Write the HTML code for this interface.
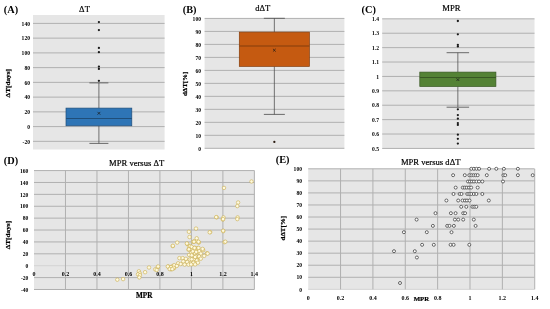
<!DOCTYPE html>
<html><head><meta charset="utf-8"><title>Box plots and scatter plots of MPR, ΔT and dΔT</title><style>
html,body{margin:0;padding:0;background:#fff;overflow:hidden;}
svg{display:block;font-family:'Liberation Serif', 'DejaVu Serif', serif;}
</style></head><body>
<svg width="550" height="309" viewBox="0 0 550 309">
<rect width="550" height="309" fill="#fff"/>
<rect x="33.00" y="15.00" width="131.60" height="134.50" fill="#e6e6e6"/>
<line x1="33.00" y1="23.39" x2="164.60" y2="23.39" stroke="#b0b0b0" stroke-width="1"/>
<text x="30.00" y="25.59" font-size="5.6" text-anchor="end" font-weight="bold">140</text>
<line x1="33.00" y1="38.14" x2="164.60" y2="38.14" stroke="#b0b0b0" stroke-width="1"/>
<text x="30.00" y="40.34" font-size="5.6" text-anchor="end" font-weight="bold">120</text>
<line x1="33.00" y1="52.88" x2="164.60" y2="52.88" stroke="#b0b0b0" stroke-width="1"/>
<text x="30.00" y="55.08" font-size="5.6" text-anchor="end" font-weight="bold">100</text>
<line x1="33.00" y1="67.62" x2="164.60" y2="67.62" stroke="#b0b0b0" stroke-width="1"/>
<text x="30.00" y="69.82" font-size="5.6" text-anchor="end" font-weight="bold">80</text>
<line x1="33.00" y1="82.37" x2="164.60" y2="82.37" stroke="#b0b0b0" stroke-width="1"/>
<text x="30.00" y="84.57" font-size="5.6" text-anchor="end" font-weight="bold">60</text>
<line x1="33.00" y1="97.11" x2="164.60" y2="97.11" stroke="#b0b0b0" stroke-width="1"/>
<text x="30.00" y="99.31" font-size="5.6" text-anchor="end" font-weight="bold">40</text>
<line x1="33.00" y1="111.86" x2="164.60" y2="111.86" stroke="#b0b0b0" stroke-width="1"/>
<text x="30.00" y="114.06" font-size="5.6" text-anchor="end" font-weight="bold">20</text>
<line x1="33.00" y1="126.60" x2="164.60" y2="126.60" stroke="#b0b0b0" stroke-width="1"/>
<text x="30.00" y="128.80" font-size="5.6" text-anchor="end" font-weight="bold">0</text>
<line x1="33.00" y1="141.34" x2="164.60" y2="141.34" stroke="#b0b0b0" stroke-width="1"/>
<text x="30.00" y="143.54" font-size="5.6" text-anchor="end" font-weight="bold">-20</text>
<line x1="98.90" y1="82.90" x2="98.90" y2="108.10" stroke="#4a4a4a" stroke-width="0.75"/>
<line x1="98.90" y1="125.80" x2="98.90" y2="143.40" stroke="#4a4a4a" stroke-width="0.75"/>
<line x1="89.40" y1="82.90" x2="108.40" y2="82.90" stroke="#4a4a4a" stroke-width="0.8"/>
<line x1="89.40" y1="143.40" x2="108.40" y2="143.40" stroke="#4a4a4a" stroke-width="0.8"/>
<rect x="66.00" y="108.10" width="65.80" height="17.70" fill="#2e75b6" stroke="#1f4e79" stroke-width="0.7"/>
<line x1="66.00" y1="118.50" x2="131.80" y2="118.50" stroke="#1f4e79" stroke-width="1.1"/>
<path d="M97.50 111.90L100.30 114.70M100.30 111.90L97.50 114.70" stroke="#1a1a1a" stroke-width="0.7"/>
<circle cx="98.90" cy="22.10" r="1.15" fill="#1a1a1a"/>
<circle cx="98.90" cy="30.10" r="1.15" fill="#1a1a1a"/>
<circle cx="98.90" cy="47.90" r="1.15" fill="#1a1a1a"/>
<circle cx="98.90" cy="52.20" r="1.15" fill="#1a1a1a"/>
<circle cx="98.90" cy="66.60" r="1.15" fill="#1a1a1a"/>
<circle cx="98.90" cy="68.90" r="1.15" fill="#1a1a1a"/>
<circle cx="98.90" cy="80.80" r="1.15" fill="#1a1a1a"/>
<text x="84.50" y="11.85" font-size="8.6" text-anchor="middle" stroke="#000" stroke-width="0.2">ΔT</text>
<text x="0.00" y="0.00" font-size="6.5120000000000005" text-anchor="middle" font-weight="bold" transform="translate(9.50 83.20) rotate(-90) scale(1.12,1)" stroke="#000" stroke-width="0.22">ΔT[days]</text>
<text x="3.80" y="12.50" font-size="10.3" font-weight="bold">(A)</text>
<rect x="204.60" y="18.40" width="139.80" height="129.90" fill="#e6e6e6"/>
<line x1="204.60" y1="18.42" x2="344.40" y2="18.42" stroke="#b0b0b0" stroke-width="1"/>
<text x="201.00" y="20.62" font-size="5.6" text-anchor="end" font-weight="bold">100</text>
<line x1="204.60" y1="31.41" x2="344.40" y2="31.41" stroke="#b0b0b0" stroke-width="1"/>
<text x="201.00" y="33.61" font-size="5.6" text-anchor="end" font-weight="bold">90</text>
<line x1="204.60" y1="44.40" x2="344.40" y2="44.40" stroke="#b0b0b0" stroke-width="1"/>
<text x="201.00" y="46.60" font-size="5.6" text-anchor="end" font-weight="bold">80</text>
<line x1="204.60" y1="57.39" x2="344.40" y2="57.39" stroke="#b0b0b0" stroke-width="1"/>
<text x="201.00" y="59.59" font-size="5.6" text-anchor="end" font-weight="bold">70</text>
<line x1="204.60" y1="70.38" x2="344.40" y2="70.38" stroke="#b0b0b0" stroke-width="1"/>
<text x="201.00" y="72.58" font-size="5.6" text-anchor="end" font-weight="bold">60</text>
<line x1="204.60" y1="83.37" x2="344.40" y2="83.37" stroke="#b0b0b0" stroke-width="1"/>
<text x="201.00" y="85.57" font-size="5.6" text-anchor="end" font-weight="bold">50</text>
<line x1="204.60" y1="96.35" x2="344.40" y2="96.35" stroke="#b0b0b0" stroke-width="1"/>
<text x="201.00" y="98.55" font-size="5.6" text-anchor="end" font-weight="bold">40</text>
<line x1="204.60" y1="109.34" x2="344.40" y2="109.34" stroke="#b0b0b0" stroke-width="1"/>
<text x="201.00" y="111.54" font-size="5.6" text-anchor="end" font-weight="bold">30</text>
<line x1="204.60" y1="122.33" x2="344.40" y2="122.33" stroke="#b0b0b0" stroke-width="1"/>
<text x="201.00" y="124.53" font-size="5.6" text-anchor="end" font-weight="bold">20</text>
<line x1="204.60" y1="135.32" x2="344.40" y2="135.32" stroke="#b0b0b0" stroke-width="1"/>
<text x="201.00" y="137.52" font-size="5.6" text-anchor="end" font-weight="bold">10</text>
<line x1="204.60" y1="148.31" x2="344.40" y2="148.31" stroke="#b0b0b0" stroke-width="1"/>
<text x="201.00" y="150.51" font-size="5.6" text-anchor="end" font-weight="bold">0</text>
<line x1="274.35" y1="18.30" x2="274.35" y2="32.10" stroke="#4a4a4a" stroke-width="0.75"/>
<line x1="274.35" y1="66.40" x2="274.35" y2="114.40" stroke="#4a4a4a" stroke-width="0.75"/>
<line x1="263.85" y1="18.30" x2="284.85" y2="18.30" stroke="#4a4a4a" stroke-width="0.8"/>
<line x1="263.85" y1="114.40" x2="284.85" y2="114.40" stroke="#4a4a4a" stroke-width="0.8"/>
<rect x="239.30" y="32.10" width="70.10" height="34.30" fill="#c55a11" stroke="#843c0c" stroke-width="0.7"/>
<line x1="239.30" y1="46.00" x2="309.40" y2="46.00" stroke="#843c0c" stroke-width="1.1"/>
<path d="M272.95 48.80L275.75 51.60M275.75 48.80L272.95 51.60" stroke="#1a1a1a" stroke-width="0.7"/>
<circle cx="274.35" cy="141.90" r="1.15" fill="#2a1a10"/>
<text x="262.80" y="11.35" font-size="8.6" text-anchor="middle" stroke="#000" stroke-width="0.2">dΔT</text>
<text x="0.00" y="0.00" font-size="6.16" text-anchor="middle" font-weight="bold" transform="translate(187.20 83.90) rotate(-90) scale(1.12,1)" stroke="#000" stroke-width="0.22">dΔT[%]</text>
<text x="182.80" y="12.50" font-size="10.3" font-weight="bold">(B)</text>
<rect x="382.20" y="18.60" width="152.30" height="129.80" fill="#e6e6e6"/>
<line x1="382.20" y1="18.83" x2="534.50" y2="18.83" stroke="#b0b0b0" stroke-width="1"/>
<text x="379.00" y="21.03" font-size="5.6" text-anchor="end" font-weight="bold">1.4</text>
<line x1="382.20" y1="33.23" x2="534.50" y2="33.23" stroke="#b0b0b0" stroke-width="1"/>
<text x="379.00" y="35.43" font-size="5.6" text-anchor="end" font-weight="bold">1.3</text>
<line x1="382.20" y1="47.63" x2="534.50" y2="47.63" stroke="#b0b0b0" stroke-width="1"/>
<text x="379.00" y="49.83" font-size="5.6" text-anchor="end" font-weight="bold">1.2</text>
<line x1="382.20" y1="62.03" x2="534.50" y2="62.03" stroke="#b0b0b0" stroke-width="1"/>
<text x="379.00" y="64.23" font-size="5.6" text-anchor="end" font-weight="bold">1.1</text>
<line x1="382.20" y1="76.43" x2="534.50" y2="76.43" stroke="#b0b0b0" stroke-width="1"/>
<text x="379.00" y="78.63" font-size="5.6" text-anchor="end" font-weight="bold">1</text>
<line x1="382.20" y1="90.83" x2="534.50" y2="90.83" stroke="#b0b0b0" stroke-width="1"/>
<text x="379.00" y="93.03" font-size="5.6" text-anchor="end" font-weight="bold">0.9</text>
<line x1="382.20" y1="105.23" x2="534.50" y2="105.23" stroke="#b0b0b0" stroke-width="1"/>
<text x="379.00" y="107.43" font-size="5.6" text-anchor="end" font-weight="bold">0.8</text>
<line x1="382.20" y1="119.63" x2="534.50" y2="119.63" stroke="#b0b0b0" stroke-width="1"/>
<text x="379.00" y="121.83" font-size="5.6" text-anchor="end" font-weight="bold">0.7</text>
<line x1="382.20" y1="134.03" x2="534.50" y2="134.03" stroke="#b0b0b0" stroke-width="1"/>
<text x="379.00" y="136.23" font-size="5.6" text-anchor="end" font-weight="bold">0.6</text>
<line x1="382.20" y1="148.43" x2="534.50" y2="148.43" stroke="#b0b0b0" stroke-width="1"/>
<text x="379.00" y="150.63" font-size="5.6" text-anchor="end" font-weight="bold">0.5</text>
<line x1="457.85" y1="52.70" x2="457.85" y2="72.10" stroke="#4a4a4a" stroke-width="0.75"/>
<line x1="457.85" y1="86.50" x2="457.85" y2="107.20" stroke="#4a4a4a" stroke-width="0.75"/>
<line x1="446.60" y1="52.70" x2="469.10" y2="52.70" stroke="#4a4a4a" stroke-width="0.8"/>
<line x1="446.60" y1="107.20" x2="469.10" y2="107.20" stroke="#4a4a4a" stroke-width="0.8"/>
<rect x="419.80" y="72.10" width="76.10" height="14.40" fill="#548235" stroke="#385723" stroke-width="0.7"/>
<line x1="419.80" y1="77.50" x2="495.90" y2="77.50" stroke="#385723" stroke-width="1.1"/>
<path d="M456.45 78.20L459.25 81.00M459.25 78.20L456.45 81.00" stroke="#1a1a1a" stroke-width="0.7"/>
<circle cx="457.85" cy="21.00" r="1.15" fill="#1a1a1a"/>
<circle cx="457.85" cy="34.30" r="1.15" fill="#1a1a1a"/>
<circle cx="457.85" cy="44.80" r="1.15" fill="#1a1a1a"/>
<circle cx="457.85" cy="46.40" r="1.15" fill="#1a1a1a"/>
<circle cx="457.85" cy="109.30" r="1.15" fill="#1a1a1a"/>
<circle cx="457.85" cy="115.10" r="1.15" fill="#1a1a1a"/>
<circle cx="457.85" cy="118.70" r="1.15" fill="#1a1a1a"/>
<circle cx="457.85" cy="123.10" r="1.15" fill="#1a1a1a"/>
<circle cx="457.85" cy="124.90" r="1.15" fill="#1a1a1a"/>
<circle cx="457.85" cy="134.70" r="1.15" fill="#1a1a1a"/>
<circle cx="457.85" cy="138.80" r="1.15" fill="#1a1a1a"/>
<circle cx="457.85" cy="143.60" r="1.15" fill="#1a1a1a"/>
<text x="451.40" y="11.15" font-size="8.6" text-anchor="middle" stroke="#000" stroke-width="0.2">MPR</text>
<text x="361.60" y="12.50" font-size="10.3" font-weight="bold">(C)</text>
<rect x="34.00" y="170.57" width="220.40" height="118.92" fill="#e6e6e6"/>
<line x1="34.00" y1="170.57" x2="254.40" y2="170.57" stroke="#b0b0b0" stroke-width="1"/>
<text x="28.40" y="172.77" font-size="5.6" text-anchor="end" font-weight="bold">160</text>
<line x1="34.00" y1="182.47" x2="254.40" y2="182.47" stroke="#b0b0b0" stroke-width="1"/>
<text x="28.40" y="184.67" font-size="5.6" text-anchor="end" font-weight="bold">140</text>
<line x1="34.00" y1="194.36" x2="254.40" y2="194.36" stroke="#b0b0b0" stroke-width="1"/>
<text x="28.40" y="196.56" font-size="5.6" text-anchor="end" font-weight="bold">120</text>
<line x1="34.00" y1="206.25" x2="254.40" y2="206.25" stroke="#b0b0b0" stroke-width="1"/>
<text x="28.40" y="208.45" font-size="5.6" text-anchor="end" font-weight="bold">100</text>
<line x1="34.00" y1="218.14" x2="254.40" y2="218.14" stroke="#b0b0b0" stroke-width="1"/>
<text x="28.40" y="220.34" font-size="5.6" text-anchor="end" font-weight="bold">80</text>
<line x1="34.00" y1="230.03" x2="254.40" y2="230.03" stroke="#b0b0b0" stroke-width="1"/>
<text x="28.40" y="232.23" font-size="5.6" text-anchor="end" font-weight="bold">60</text>
<line x1="34.00" y1="241.93" x2="254.40" y2="241.93" stroke="#b0b0b0" stroke-width="1"/>
<text x="28.40" y="244.13" font-size="5.6" text-anchor="end" font-weight="bold">40</text>
<line x1="34.00" y1="253.82" x2="254.40" y2="253.82" stroke="#b0b0b0" stroke-width="1"/>
<text x="28.40" y="256.02" font-size="5.6" text-anchor="end" font-weight="bold">20</text>
<line x1="34.00" y1="265.71" x2="254.40" y2="265.71" stroke="#d3d3d3" stroke-width="1"/>
<text x="28.40" y="267.91" font-size="5.6" text-anchor="end" font-weight="bold">0</text>
<line x1="34.00" y1="277.60" x2="254.40" y2="277.60" stroke="#b0b0b0" stroke-width="1"/>
<text x="28.40" y="279.80" font-size="5.6" text-anchor="end" font-weight="bold">-20</text>
<line x1="34.00" y1="289.49" x2="254.40" y2="289.49" stroke="#b0b0b0" stroke-width="1"/>
<text x="28.40" y="291.69" font-size="5.6" text-anchor="end" font-weight="bold">-40</text>
<line x1="65.48" y1="170.57" x2="65.48" y2="289.49" stroke="#b0b0b0" stroke-width="1"/>
<line x1="96.96" y1="170.57" x2="96.96" y2="289.49" stroke="#b0b0b0" stroke-width="1"/>
<line x1="128.44" y1="170.57" x2="128.44" y2="289.49" stroke="#b0b0b0" stroke-width="1"/>
<line x1="159.92" y1="170.57" x2="159.92" y2="289.49" stroke="#b0b0b0" stroke-width="1"/>
<line x1="191.40" y1="170.57" x2="191.40" y2="289.49" stroke="#b0b0b0" stroke-width="1"/>
<line x1="222.88" y1="170.57" x2="222.88" y2="289.49" stroke="#b0b0b0" stroke-width="1"/>
<line x1="254.36" y1="170.57" x2="254.36" y2="289.49" stroke="#b0b0b0" stroke-width="1"/>
<text x="34.00" y="275.90" font-size="6.0" text-anchor="middle" font-weight="bold">0</text>
<text x="65.48" y="275.90" font-size="6.0" text-anchor="middle" font-weight="bold">0.2</text>
<text x="96.96" y="275.90" font-size="6.0" text-anchor="middle" font-weight="bold">0.4</text>
<text x="128.44" y="275.90" font-size="6.0" text-anchor="middle" font-weight="bold">0.6</text>
<text x="159.92" y="275.90" font-size="6.0" text-anchor="middle" font-weight="bold">0.8</text>
<text x="191.40" y="275.90" font-size="6.0" text-anchor="middle" font-weight="bold">1</text>
<text x="222.88" y="275.90" font-size="6.0" text-anchor="middle" font-weight="bold">1.2</text>
<text x="254.36" y="275.90" font-size="6.0" text-anchor="middle" font-weight="bold">1.4</text>
<circle cx="117.30" cy="279.70" r="1.75" fill="#fffadf" stroke="#c9ad4e" stroke-width="0.6"/>
<circle cx="123.10" cy="279.10" r="1.75" fill="#fffadf" stroke="#c9ad4e" stroke-width="0.6"/>
<circle cx="138.90" cy="271.30" r="1.75" fill="#fffadf" stroke="#c9ad4e" stroke-width="0.6"/>
<circle cx="139.70" cy="273.30" r="1.75" fill="#fffadf" stroke="#c9ad4e" stroke-width="0.6"/>
<circle cx="138.00" cy="274.30" r="1.75" fill="#fffadf" stroke="#c9ad4e" stroke-width="0.6"/>
<circle cx="139.90" cy="275.20" r="1.75" fill="#fffadf" stroke="#c9ad4e" stroke-width="0.6"/>
<circle cx="139.30" cy="277.40" r="1.75" fill="#fffadf" stroke="#c9ad4e" stroke-width="0.6"/>
<circle cx="145.10" cy="272.20" r="1.75" fill="#fffadf" stroke="#c9ad4e" stroke-width="0.6"/>
<circle cx="149.00" cy="267.50" r="1.75" fill="#fffadf" stroke="#c9ad4e" stroke-width="0.6"/>
<circle cx="155.20" cy="269.40" r="1.75" fill="#fffadf" stroke="#c9ad4e" stroke-width="0.6"/>
<circle cx="157.80" cy="267.10" r="1.75" fill="#fffadf" stroke="#c9ad4e" stroke-width="0.6"/>
<circle cx="156.70" cy="270.00" r="1.75" fill="#fffadf" stroke="#c9ad4e" stroke-width="0.6"/>
<circle cx="158.10" cy="266.50" r="1.75" fill="#fffadf" stroke="#c9ad4e" stroke-width="0.6"/>
<circle cx="168.30" cy="266.50" r="1.75" fill="#fffadf" stroke="#c9ad4e" stroke-width="0.6"/>
<circle cx="170.60" cy="267.10" r="1.75" fill="#fffadf" stroke="#c9ad4e" stroke-width="0.6"/>
<circle cx="172.80" cy="266.00" r="1.75" fill="#fffadf" stroke="#c9ad4e" stroke-width="0.6"/>
<circle cx="174.00" cy="268.20" r="1.75" fill="#fffadf" stroke="#c9ad4e" stroke-width="0.6"/>
<circle cx="171.10" cy="269.30" r="1.75" fill="#fffadf" stroke="#c9ad4e" stroke-width="0.6"/>
<circle cx="172.80" cy="246.10" r="1.75" fill="#fffadf" stroke="#c9ad4e" stroke-width="0.6"/>
<circle cx="172.90" cy="245.80" r="1.75" fill="#fffadf" stroke="#c9ad4e" stroke-width="0.6"/>
<circle cx="177.20" cy="242.60" r="1.75" fill="#fffadf" stroke="#c9ad4e" stroke-width="0.6"/>
<circle cx="187.20" cy="243.90" r="1.75" fill="#fffadf" stroke="#c9ad4e" stroke-width="0.6"/>
<circle cx="189.10" cy="246.50" r="1.75" fill="#fffadf" stroke="#c9ad4e" stroke-width="0.6"/>
<circle cx="193.00" cy="241.90" r="1.75" fill="#fffadf" stroke="#c9ad4e" stroke-width="0.6"/>
<circle cx="196.20" cy="241.30" r="1.75" fill="#fffadf" stroke="#c9ad4e" stroke-width="0.6"/>
<circle cx="198.80" cy="242.60" r="1.75" fill="#fffadf" stroke="#c9ad4e" stroke-width="0.6"/>
<circle cx="188.50" cy="249.70" r="1.75" fill="#fffadf" stroke="#c9ad4e" stroke-width="0.6"/>
<circle cx="191.70" cy="249.10" r="1.75" fill="#fffadf" stroke="#c9ad4e" stroke-width="0.6"/>
<circle cx="195.00" cy="247.80" r="1.75" fill="#fffadf" stroke="#c9ad4e" stroke-width="0.6"/>
<circle cx="197.50" cy="249.10" r="1.75" fill="#fffadf" stroke="#c9ad4e" stroke-width="0.6"/>
<circle cx="198.80" cy="252.30" r="1.75" fill="#fffadf" stroke="#c9ad4e" stroke-width="0.6"/>
<circle cx="191.70" cy="252.90" r="1.75" fill="#fffadf" stroke="#c9ad4e" stroke-width="0.6"/>
<circle cx="195.00" cy="253.60" r="1.75" fill="#fffadf" stroke="#c9ad4e" stroke-width="0.6"/>
<circle cx="189.10" cy="254.90" r="1.75" fill="#fffadf" stroke="#c9ad4e" stroke-width="0.6"/>
<circle cx="193.00" cy="256.20" r="1.75" fill="#fffadf" stroke="#c9ad4e" stroke-width="0.6"/>
<circle cx="196.20" cy="256.20" r="1.75" fill="#fffadf" stroke="#c9ad4e" stroke-width="0.6"/>
<circle cx="198.80" cy="256.80" r="1.75" fill="#fffadf" stroke="#c9ad4e" stroke-width="0.6"/>
<circle cx="179.40" cy="258.10" r="1.75" fill="#fffadf" stroke="#c9ad4e" stroke-width="0.6"/>
<circle cx="182.70" cy="258.10" r="1.75" fill="#fffadf" stroke="#c9ad4e" stroke-width="0.6"/>
<circle cx="185.90" cy="258.80" r="1.75" fill="#fffadf" stroke="#c9ad4e" stroke-width="0.6"/>
<circle cx="189.80" cy="259.40" r="1.75" fill="#fffadf" stroke="#c9ad4e" stroke-width="0.6"/>
<circle cx="193.70" cy="259.40" r="1.75" fill="#fffadf" stroke="#c9ad4e" stroke-width="0.6"/>
<circle cx="197.50" cy="260.10" r="1.75" fill="#fffadf" stroke="#c9ad4e" stroke-width="0.6"/>
<circle cx="183.30" cy="261.40" r="1.75" fill="#fffadf" stroke="#c9ad4e" stroke-width="0.6"/>
<circle cx="187.20" cy="262.00" r="1.75" fill="#fffadf" stroke="#c9ad4e" stroke-width="0.6"/>
<circle cx="191.10" cy="262.70" r="1.75" fill="#fffadf" stroke="#c9ad4e" stroke-width="0.6"/>
<circle cx="195.00" cy="262.70" r="1.75" fill="#fffadf" stroke="#c9ad4e" stroke-width="0.6"/>
<circle cx="178.10" cy="263.30" r="1.75" fill="#fffadf" stroke="#c9ad4e" stroke-width="0.6"/>
<circle cx="180.70" cy="264.00" r="1.75" fill="#fffadf" stroke="#c9ad4e" stroke-width="0.6"/>
<circle cx="184.60" cy="264.60" r="1.75" fill="#fffadf" stroke="#c9ad4e" stroke-width="0.6"/>
<circle cx="188.50" cy="264.60" r="1.75" fill="#fffadf" stroke="#c9ad4e" stroke-width="0.6"/>
<circle cx="192.40" cy="264.00" r="1.75" fill="#fffadf" stroke="#c9ad4e" stroke-width="0.6"/>
<circle cx="174.20" cy="265.20" r="1.75" fill="#fffadf" stroke="#c9ad4e" stroke-width="0.6"/>
<circle cx="176.80" cy="265.90" r="1.75" fill="#fffadf" stroke="#c9ad4e" stroke-width="0.6"/>
<circle cx="167.80" cy="266.50" r="1.75" fill="#fffadf" stroke="#c9ad4e" stroke-width="0.6"/>
<circle cx="171.00" cy="267.20" r="1.75" fill="#fffadf" stroke="#c9ad4e" stroke-width="0.6"/>
<circle cx="173.60" cy="267.80" r="1.75" fill="#fffadf" stroke="#c9ad4e" stroke-width="0.6"/>
<circle cx="169.70" cy="269.10" r="1.75" fill="#fffadf" stroke="#c9ad4e" stroke-width="0.6"/>
<circle cx="172.30" cy="269.10" r="1.75" fill="#fffadf" stroke="#c9ad4e" stroke-width="0.6"/>
<circle cx="216.70" cy="217.30" r="1.75" fill="#fffadf" stroke="#c9ad4e" stroke-width="0.6"/>
<circle cx="222.80" cy="219.50" r="1.75" fill="#fffadf" stroke="#c9ad4e" stroke-width="0.6"/>
<circle cx="196.00" cy="228.60" r="1.75" fill="#fffadf" stroke="#c9ad4e" stroke-width="0.6"/>
<circle cx="210.20" cy="232.10" r="1.75" fill="#fffadf" stroke="#c9ad4e" stroke-width="0.6"/>
<circle cx="188.90" cy="231.80" r="1.75" fill="#fffadf" stroke="#c9ad4e" stroke-width="0.6"/>
<circle cx="189.50" cy="237.00" r="1.75" fill="#fffadf" stroke="#c9ad4e" stroke-width="0.6"/>
<circle cx="223.20" cy="231.20" r="1.75" fill="#fffadf" stroke="#c9ad4e" stroke-width="0.6"/>
<circle cx="196.70" cy="238.30" r="1.75" fill="#fffadf" stroke="#c9ad4e" stroke-width="0.6"/>
<circle cx="194.10" cy="241.50" r="1.75" fill="#fffadf" stroke="#c9ad4e" stroke-width="0.6"/>
<circle cx="198.60" cy="242.20" r="1.75" fill="#fffadf" stroke="#c9ad4e" stroke-width="0.6"/>
<circle cx="186.90" cy="243.50" r="1.75" fill="#fffadf" stroke="#c9ad4e" stroke-width="0.6"/>
<circle cx="190.20" cy="246.10" r="1.75" fill="#fffadf" stroke="#c9ad4e" stroke-width="0.6"/>
<circle cx="192.80" cy="248.00" r="1.75" fill="#fffadf" stroke="#c9ad4e" stroke-width="0.6"/>
<circle cx="197.90" cy="248.00" r="1.75" fill="#fffadf" stroke="#c9ad4e" stroke-width="0.6"/>
<circle cx="203.10" cy="250.00" r="1.75" fill="#fffadf" stroke="#c9ad4e" stroke-width="0.6"/>
<circle cx="188.90" cy="249.30" r="1.75" fill="#fffadf" stroke="#c9ad4e" stroke-width="0.6"/>
<circle cx="194.70" cy="250.60" r="1.75" fill="#fffadf" stroke="#c9ad4e" stroke-width="0.6"/>
<circle cx="199.20" cy="251.20" r="1.75" fill="#fffadf" stroke="#c9ad4e" stroke-width="0.6"/>
<circle cx="191.50" cy="252.50" r="1.75" fill="#fffadf" stroke="#c9ad4e" stroke-width="0.6"/>
<circle cx="207.00" cy="253.20" r="1.75" fill="#fffadf" stroke="#c9ad4e" stroke-width="0.6"/>
<circle cx="224.50" cy="242.20" r="1.75" fill="#fffadf" stroke="#c9ad4e" stroke-width="0.6"/>
<circle cx="194.00" cy="241.70" r="1.75" fill="#fffadf" stroke="#c9ad4e" stroke-width="0.6"/>
<circle cx="198.50" cy="241.70" r="1.75" fill="#fffadf" stroke="#c9ad4e" stroke-width="0.6"/>
<circle cx="191.70" cy="246.80" r="1.75" fill="#fffadf" stroke="#c9ad4e" stroke-width="0.6"/>
<circle cx="194.50" cy="247.90" r="1.75" fill="#fffadf" stroke="#c9ad4e" stroke-width="0.6"/>
<circle cx="198.50" cy="247.90" r="1.75" fill="#fffadf" stroke="#c9ad4e" stroke-width="0.6"/>
<circle cx="203.00" cy="250.20" r="1.75" fill="#fffadf" stroke="#c9ad4e" stroke-width="0.6"/>
<circle cx="207.60" cy="253.60" r="1.75" fill="#fffadf" stroke="#c9ad4e" stroke-width="0.6"/>
<circle cx="200.80" cy="253.60" r="1.75" fill="#fffadf" stroke="#c9ad4e" stroke-width="0.6"/>
<circle cx="192.80" cy="251.30" r="1.75" fill="#fffadf" stroke="#c9ad4e" stroke-width="0.6"/>
<circle cx="196.20" cy="251.90" r="1.75" fill="#fffadf" stroke="#c9ad4e" stroke-width="0.6"/>
<circle cx="204.20" cy="255.90" r="1.75" fill="#fffadf" stroke="#c9ad4e" stroke-width="0.6"/>
<circle cx="199.10" cy="256.40" r="1.75" fill="#fffadf" stroke="#c9ad4e" stroke-width="0.6"/>
<circle cx="195.10" cy="257.00" r="1.75" fill="#fffadf" stroke="#c9ad4e" stroke-width="0.6"/>
<circle cx="191.70" cy="255.30" r="1.75" fill="#fffadf" stroke="#c9ad4e" stroke-width="0.6"/>
<circle cx="191.70" cy="259.30" r="1.75" fill="#fffadf" stroke="#c9ad4e" stroke-width="0.6"/>
<circle cx="196.80" cy="260.40" r="1.75" fill="#fffadf" stroke="#c9ad4e" stroke-width="0.6"/>
<circle cx="200.80" cy="258.70" r="1.75" fill="#fffadf" stroke="#c9ad4e" stroke-width="0.6"/>
<circle cx="193.40" cy="262.70" r="1.75" fill="#fffadf" stroke="#c9ad4e" stroke-width="0.6"/>
<circle cx="197.90" cy="262.70" r="1.75" fill="#fffadf" stroke="#c9ad4e" stroke-width="0.6"/>
<circle cx="195.10" cy="264.40" r="1.75" fill="#fffadf" stroke="#c9ad4e" stroke-width="0.6"/>
<circle cx="191.10" cy="264.40" r="1.75" fill="#fffadf" stroke="#c9ad4e" stroke-width="0.6"/>
<circle cx="251.50" cy="181.50" r="1.75" fill="#fffadf" stroke="#c9ad4e" stroke-width="0.6"/>
<circle cx="224.00" cy="187.90" r="1.75" fill="#fffadf" stroke="#c9ad4e" stroke-width="0.6"/>
<circle cx="238.10" cy="202.50" r="1.75" fill="#fffadf" stroke="#c9ad4e" stroke-width="0.6"/>
<circle cx="237.30" cy="206.10" r="1.75" fill="#fffadf" stroke="#c9ad4e" stroke-width="0.6"/>
<circle cx="216.20" cy="217.10" r="1.75" fill="#fffadf" stroke="#c9ad4e" stroke-width="0.6"/>
<circle cx="223.50" cy="217.40" r="1.75" fill="#fffadf" stroke="#c9ad4e" stroke-width="0.6"/>
<circle cx="237.60" cy="217.40" r="1.75" fill="#fffadf" stroke="#c9ad4e" stroke-width="0.6"/>
<circle cx="223.10" cy="219.10" r="1.75" fill="#fffadf" stroke="#c9ad4e" stroke-width="0.6"/>
<circle cx="237.30" cy="219.10" r="1.75" fill="#fffadf" stroke="#c9ad4e" stroke-width="0.6"/>
<circle cx="209.70" cy="232.30" r="1.75" fill="#fffadf" stroke="#c9ad4e" stroke-width="0.6"/>
<circle cx="223.10" cy="230.70" r="1.75" fill="#fffadf" stroke="#c9ad4e" stroke-width="0.6"/>
<circle cx="225.30" cy="241.70" r="1.75" fill="#fffadf" stroke="#c9ad4e" stroke-width="0.6"/>
<circle cx="202.60" cy="248.90" r="1.75" fill="#fffadf" stroke="#c9ad4e" stroke-width="0.6"/>
<text x="136.70" y="166.35" font-size="8.6" text-anchor="middle" stroke="#000" stroke-width="0.2">MPR versus ΔT</text>
<text x="144.20" y="297.60" font-size="7.2" text-anchor="middle" font-weight="bold" stroke="#000" stroke-width="0.2">MPR</text>
<text x="0.00" y="0.00" font-size="6.5120000000000005" text-anchor="middle" font-weight="bold" transform="translate(10.00 235.10) rotate(-90) scale(1.12,1)" stroke="#000" stroke-width="0.22">ΔT[days]</text>
<text x="3.80" y="163.70" font-size="10.3" font-weight="bold">(D)</text>
<rect x="308.20" y="168.81" width="226.30" height="120.53" fill="#e6e6e6"/>
<line x1="308.20" y1="168.81" x2="534.50" y2="168.81" stroke="#b0b0b0" stroke-width="1"/>
<text x="302.00" y="171.01" font-size="5.6" text-anchor="end" font-weight="bold">100</text>
<line x1="308.20" y1="180.86" x2="534.50" y2="180.86" stroke="#b0b0b0" stroke-width="1"/>
<text x="302.00" y="183.06" font-size="5.6" text-anchor="end" font-weight="bold">90</text>
<line x1="308.20" y1="192.92" x2="534.50" y2="192.92" stroke="#b0b0b0" stroke-width="1"/>
<text x="302.00" y="195.12" font-size="5.6" text-anchor="end" font-weight="bold">80</text>
<line x1="308.20" y1="204.97" x2="534.50" y2="204.97" stroke="#b0b0b0" stroke-width="1"/>
<text x="302.00" y="207.17" font-size="5.6" text-anchor="end" font-weight="bold">70</text>
<line x1="308.20" y1="217.02" x2="534.50" y2="217.02" stroke="#b0b0b0" stroke-width="1"/>
<text x="302.00" y="219.22" font-size="5.6" text-anchor="end" font-weight="bold">60</text>
<line x1="308.20" y1="229.07" x2="534.50" y2="229.07" stroke="#b0b0b0" stroke-width="1"/>
<text x="302.00" y="231.27" font-size="5.6" text-anchor="end" font-weight="bold">50</text>
<line x1="308.20" y1="241.13" x2="534.50" y2="241.13" stroke="#b0b0b0" stroke-width="1"/>
<text x="302.00" y="243.33" font-size="5.6" text-anchor="end" font-weight="bold">40</text>
<line x1="308.20" y1="253.18" x2="534.50" y2="253.18" stroke="#b0b0b0" stroke-width="1"/>
<text x="302.00" y="255.38" font-size="5.6" text-anchor="end" font-weight="bold">30</text>
<line x1="308.20" y1="265.23" x2="534.50" y2="265.23" stroke="#b0b0b0" stroke-width="1"/>
<text x="302.00" y="267.43" font-size="5.6" text-anchor="end" font-weight="bold">20</text>
<line x1="308.20" y1="277.29" x2="534.50" y2="277.29" stroke="#b0b0b0" stroke-width="1"/>
<text x="302.00" y="279.49" font-size="5.6" text-anchor="end" font-weight="bold">10</text>
<line x1="308.20" y1="289.34" x2="534.50" y2="289.34" stroke="#d3d3d3" stroke-width="1"/>
<text x="302.00" y="291.54" font-size="5.6" text-anchor="end" font-weight="bold">0</text>
<line x1="340.56" y1="168.81" x2="340.56" y2="289.34" stroke="#b0b0b0" stroke-width="1"/>
<line x1="372.92" y1="168.81" x2="372.92" y2="289.34" stroke="#b0b0b0" stroke-width="1"/>
<line x1="405.28" y1="168.81" x2="405.28" y2="289.34" stroke="#b0b0b0" stroke-width="1"/>
<line x1="437.64" y1="168.81" x2="437.64" y2="289.34" stroke="#b0b0b0" stroke-width="1"/>
<line x1="470.00" y1="168.81" x2="470.00" y2="289.34" stroke="#b0b0b0" stroke-width="1"/>
<line x1="502.36" y1="168.81" x2="502.36" y2="289.34" stroke="#b0b0b0" stroke-width="1"/>
<line x1="534.72" y1="168.81" x2="534.72" y2="289.34" stroke="#b0b0b0" stroke-width="1"/>
<text x="308.20" y="299.80" font-size="6.0" text-anchor="middle" font-weight="bold">0</text>
<text x="340.56" y="299.80" font-size="6.0" text-anchor="middle" font-weight="bold">0.2</text>
<text x="372.92" y="299.80" font-size="6.0" text-anchor="middle" font-weight="bold">0.4</text>
<text x="405.28" y="299.80" font-size="6.0" text-anchor="middle" font-weight="bold">0.6</text>
<text x="437.64" y="299.80" font-size="6.0" text-anchor="middle" font-weight="bold">0.8</text>
<text x="470.00" y="299.80" font-size="6.0" text-anchor="middle" font-weight="bold">1</text>
<text x="502.36" y="299.80" font-size="6.0" text-anchor="middle" font-weight="bold">1.2</text>
<text x="534.72" y="299.80" font-size="6.0" text-anchor="middle" font-weight="bold">1.4</text>
<circle cx="471.30" cy="168.80" r="1.5" fill="#ffffff" stroke="#3a3a3a" stroke-width="0.75"/>
<circle cx="473.90" cy="168.80" r="1.5" fill="#ffffff" stroke="#3a3a3a" stroke-width="0.75"/>
<circle cx="476.50" cy="168.80" r="1.5" fill="#ffffff" stroke="#3a3a3a" stroke-width="0.75"/>
<circle cx="479.10" cy="168.80" r="1.5" fill="#ffffff" stroke="#3a3a3a" stroke-width="0.75"/>
<circle cx="489.10" cy="168.80" r="1.5" fill="#ffffff" stroke="#3a3a3a" stroke-width="0.75"/>
<circle cx="496.30" cy="168.80" r="1.5" fill="#ffffff" stroke="#3a3a3a" stroke-width="0.75"/>
<circle cx="503.90" cy="168.80" r="1.5" fill="#ffffff" stroke="#3a3a3a" stroke-width="0.75"/>
<circle cx="517.90" cy="168.80" r="1.5" fill="#ffffff" stroke="#3a3a3a" stroke-width="0.75"/>
<circle cx="453.10" cy="175.20" r="1.5" fill="#ffffff" stroke="#3a3a3a" stroke-width="0.75"/>
<circle cx="464.80" cy="175.20" r="1.5" fill="#ffffff" stroke="#3a3a3a" stroke-width="0.75"/>
<circle cx="469.30" cy="175.20" r="1.5" fill="#ffffff" stroke="#3a3a3a" stroke-width="0.75"/>
<circle cx="471.40" cy="175.20" r="1.5" fill="#ffffff" stroke="#3a3a3a" stroke-width="0.75"/>
<circle cx="473.50" cy="175.20" r="1.5" fill="#ffffff" stroke="#3a3a3a" stroke-width="0.75"/>
<circle cx="475.60" cy="175.20" r="1.5" fill="#ffffff" stroke="#3a3a3a" stroke-width="0.75"/>
<circle cx="477.70" cy="175.20" r="1.5" fill="#ffffff" stroke="#3a3a3a" stroke-width="0.75"/>
<circle cx="486.80" cy="175.20" r="1.5" fill="#ffffff" stroke="#3a3a3a" stroke-width="0.75"/>
<circle cx="503.40" cy="175.20" r="1.5" fill="#ffffff" stroke="#3a3a3a" stroke-width="0.75"/>
<circle cx="505.20" cy="175.20" r="1.5" fill="#ffffff" stroke="#3a3a3a" stroke-width="0.75"/>
<circle cx="517.90" cy="175.20" r="1.5" fill="#ffffff" stroke="#3a3a3a" stroke-width="0.75"/>
<circle cx="532.70" cy="175.20" r="1.5" fill="#ffffff" stroke="#3a3a3a" stroke-width="0.75"/>
<circle cx="468.00" cy="181.50" r="1.5" fill="#ffffff" stroke="#3a3a3a" stroke-width="0.75"/>
<circle cx="470.00" cy="181.50" r="1.5" fill="#ffffff" stroke="#3a3a3a" stroke-width="0.75"/>
<circle cx="472.00" cy="181.50" r="1.5" fill="#ffffff" stroke="#3a3a3a" stroke-width="0.75"/>
<circle cx="474.00" cy="181.50" r="1.5" fill="#ffffff" stroke="#3a3a3a" stroke-width="0.75"/>
<circle cx="476.50" cy="181.50" r="1.5" fill="#ffffff" stroke="#3a3a3a" stroke-width="0.75"/>
<circle cx="479.00" cy="181.50" r="1.5" fill="#ffffff" stroke="#3a3a3a" stroke-width="0.75"/>
<circle cx="482.30" cy="181.50" r="1.5" fill="#ffffff" stroke="#3a3a3a" stroke-width="0.75"/>
<circle cx="503.00" cy="181.50" r="1.5" fill="#ffffff" stroke="#3a3a3a" stroke-width="0.75"/>
<circle cx="455.70" cy="187.60" r="1.5" fill="#ffffff" stroke="#3a3a3a" stroke-width="0.75"/>
<circle cx="462.80" cy="187.60" r="1.5" fill="#ffffff" stroke="#3a3a3a" stroke-width="0.75"/>
<circle cx="464.80" cy="187.60" r="1.5" fill="#ffffff" stroke="#3a3a3a" stroke-width="0.75"/>
<circle cx="466.80" cy="187.60" r="1.5" fill="#ffffff" stroke="#3a3a3a" stroke-width="0.75"/>
<circle cx="469.00" cy="187.60" r="1.5" fill="#ffffff" stroke="#3a3a3a" stroke-width="0.75"/>
<circle cx="471.20" cy="187.60" r="1.5" fill="#ffffff" stroke="#3a3a3a" stroke-width="0.75"/>
<circle cx="477.70" cy="187.60" r="1.5" fill="#ffffff" stroke="#3a3a3a" stroke-width="0.75"/>
<circle cx="453.50" cy="194.00" r="1.5" fill="#ffffff" stroke="#3a3a3a" stroke-width="0.75"/>
<circle cx="459.60" cy="194.00" r="1.5" fill="#ffffff" stroke="#3a3a3a" stroke-width="0.75"/>
<circle cx="461.50" cy="194.00" r="1.5" fill="#ffffff" stroke="#3a3a3a" stroke-width="0.75"/>
<circle cx="467.30" cy="194.00" r="1.5" fill="#ffffff" stroke="#3a3a3a" stroke-width="0.75"/>
<circle cx="469.30" cy="194.00" r="1.5" fill="#ffffff" stroke="#3a3a3a" stroke-width="0.75"/>
<circle cx="471.30" cy="194.00" r="1.5" fill="#ffffff" stroke="#3a3a3a" stroke-width="0.75"/>
<circle cx="473.80" cy="194.00" r="1.5" fill="#ffffff" stroke="#3a3a3a" stroke-width="0.75"/>
<circle cx="476.40" cy="194.00" r="1.5" fill="#ffffff" stroke="#3a3a3a" stroke-width="0.75"/>
<circle cx="482.30" cy="194.00" r="1.5" fill="#ffffff" stroke="#3a3a3a" stroke-width="0.75"/>
<circle cx="446.40" cy="200.50" r="1.5" fill="#ffffff" stroke="#3a3a3a" stroke-width="0.75"/>
<circle cx="458.20" cy="200.50" r="1.5" fill="#ffffff" stroke="#3a3a3a" stroke-width="0.75"/>
<circle cx="462.60" cy="200.50" r="1.5" fill="#ffffff" stroke="#3a3a3a" stroke-width="0.75"/>
<circle cx="465.00" cy="200.50" r="1.5" fill="#ffffff" stroke="#3a3a3a" stroke-width="0.75"/>
<circle cx="467.00" cy="200.50" r="1.5" fill="#ffffff" stroke="#3a3a3a" stroke-width="0.75"/>
<circle cx="469.50" cy="200.50" r="1.5" fill="#ffffff" stroke="#3a3a3a" stroke-width="0.75"/>
<circle cx="488.80" cy="200.50" r="1.5" fill="#ffffff" stroke="#3a3a3a" stroke-width="0.75"/>
<circle cx="461.20" cy="206.80" r="1.5" fill="#ffffff" stroke="#3a3a3a" stroke-width="0.75"/>
<circle cx="466.30" cy="206.80" r="1.5" fill="#ffffff" stroke="#3a3a3a" stroke-width="0.75"/>
<circle cx="472.40" cy="206.80" r="1.5" fill="#ffffff" stroke="#3a3a3a" stroke-width="0.75"/>
<circle cx="474.30" cy="206.80" r="1.5" fill="#ffffff" stroke="#3a3a3a" stroke-width="0.75"/>
<circle cx="476.30" cy="206.80" r="1.5" fill="#ffffff" stroke="#3a3a3a" stroke-width="0.75"/>
<circle cx="435.50" cy="213.20" r="1.5" fill="#ffffff" stroke="#3a3a3a" stroke-width="0.75"/>
<circle cx="450.90" cy="213.20" r="1.5" fill="#ffffff" stroke="#3a3a3a" stroke-width="0.75"/>
<circle cx="455.60" cy="213.20" r="1.5" fill="#ffffff" stroke="#3a3a3a" stroke-width="0.75"/>
<circle cx="463.20" cy="213.20" r="1.5" fill="#ffffff" stroke="#3a3a3a" stroke-width="0.75"/>
<circle cx="465.10" cy="213.20" r="1.5" fill="#ffffff" stroke="#3a3a3a" stroke-width="0.75"/>
<circle cx="416.60" cy="219.60" r="1.5" fill="#ffffff" stroke="#3a3a3a" stroke-width="0.75"/>
<circle cx="454.90" cy="219.60" r="1.5" fill="#ffffff" stroke="#3a3a3a" stroke-width="0.75"/>
<circle cx="458.20" cy="219.60" r="1.5" fill="#ffffff" stroke="#3a3a3a" stroke-width="0.75"/>
<circle cx="463.20" cy="219.60" r="1.5" fill="#ffffff" stroke="#3a3a3a" stroke-width="0.75"/>
<circle cx="473.80" cy="219.60" r="1.5" fill="#ffffff" stroke="#3a3a3a" stroke-width="0.75"/>
<circle cx="432.90" cy="225.90" r="1.5" fill="#ffffff" stroke="#3a3a3a" stroke-width="0.75"/>
<circle cx="447.20" cy="225.90" r="1.5" fill="#ffffff" stroke="#3a3a3a" stroke-width="0.75"/>
<circle cx="449.50" cy="225.90" r="1.5" fill="#ffffff" stroke="#3a3a3a" stroke-width="0.75"/>
<circle cx="453.90" cy="225.90" r="1.5" fill="#ffffff" stroke="#3a3a3a" stroke-width="0.75"/>
<circle cx="475.60" cy="225.90" r="1.5" fill="#ffffff" stroke="#3a3a3a" stroke-width="0.75"/>
<circle cx="403.90" cy="232.20" r="1.5" fill="#ffffff" stroke="#3a3a3a" stroke-width="0.75"/>
<circle cx="426.80" cy="232.20" r="1.5" fill="#ffffff" stroke="#3a3a3a" stroke-width="0.75"/>
<circle cx="451.50" cy="232.20" r="1.5" fill="#ffffff" stroke="#3a3a3a" stroke-width="0.75"/>
<circle cx="422.10" cy="244.80" r="1.5" fill="#ffffff" stroke="#3a3a3a" stroke-width="0.75"/>
<circle cx="433.80" cy="244.80" r="1.5" fill="#ffffff" stroke="#3a3a3a" stroke-width="0.75"/>
<circle cx="450.60" cy="244.80" r="1.5" fill="#ffffff" stroke="#3a3a3a" stroke-width="0.75"/>
<circle cx="453.60" cy="244.80" r="1.5" fill="#ffffff" stroke="#3a3a3a" stroke-width="0.75"/>
<circle cx="469.30" cy="244.80" r="1.5" fill="#ffffff" stroke="#3a3a3a" stroke-width="0.75"/>
<circle cx="394.00" cy="251.20" r="1.5" fill="#ffffff" stroke="#3a3a3a" stroke-width="0.75"/>
<circle cx="414.80" cy="251.20" r="1.5" fill="#ffffff" stroke="#3a3a3a" stroke-width="0.75"/>
<circle cx="416.90" cy="257.50" r="1.5" fill="#ffffff" stroke="#3a3a3a" stroke-width="0.75"/>
<circle cx="400.00" cy="283.00" r="1.5" fill="#ffffff" stroke="#3a3a3a" stroke-width="0.75"/>
<text x="430.70" y="164.85" font-size="8.6" text-anchor="middle" stroke="#000" stroke-width="0.2">MPR versus dΔT</text>
<text x="421.40" y="300.90" font-size="6.8" text-anchor="middle" font-weight="bold" stroke="#000" stroke-width="0.2">MPR</text>
<text x="0.00" y="0.00" font-size="6.247999999999999" text-anchor="middle" font-weight="bold" transform="translate(285.30 228.20) rotate(-90) scale(1.12,1)" stroke="#000" stroke-width="0.22">dΔT[%]</text>
<text x="275.80" y="162.50" font-size="10.3" font-weight="bold">(E)</text>
</svg>
</body></html>
